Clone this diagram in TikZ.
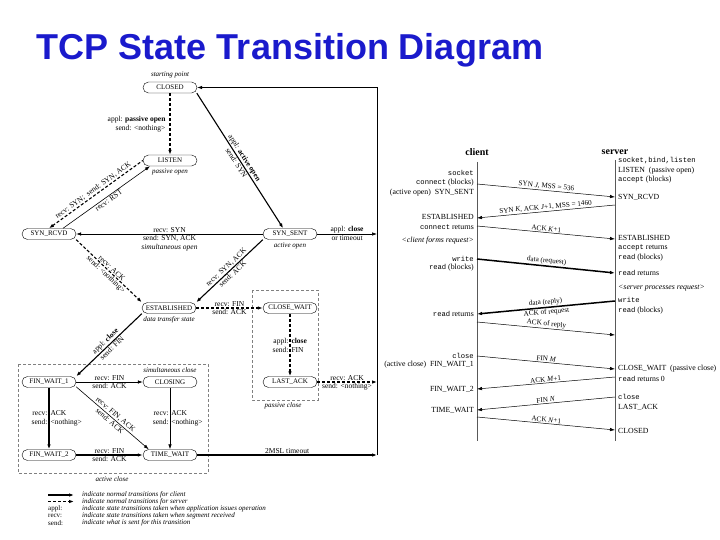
\documentclass[tikz,border=0pt]{standalone}
\usepackage{fontspec}
\setmainfont{Liberation Serif}
\setsansfont{Liberation Sans}
\setmonofont[Scale=0.92]{Liberation Mono}
\usepackage{tikz}
\usetikzlibrary{arrows.meta,positioning}
\definecolor{titleblue}{RGB}{26,26,204}

\begin{document}
\begin{tikzpicture}[
  x=1pt, y=-1pt,
  state/.style={rectangle, rounded corners=5.5pt, draw, thin, fill=white, minimum width=54pt, minimum height=11pt, inner sep=0pt, font=\fontsize{7}{8}\selectfont},
  lbl/.style={inner sep=1pt, font=\fontsize{7.5}{9}\selectfont},
  note/.style={inner sep=0pt, font=\itshape\fontsize{7}{8}\selectfont},
  client/.style={line width=1.1pt, ->},
  server/.style={line width=1.1pt, dash pattern=on 3pt off 2pt, ->},
  other/.style={line width=0.6pt, ->},
  box/.style={gray, line width=0.6pt, dash pattern=on 3pt off 2pt},
  msg/.style={line width=0.5pt, ->},
  msgdata/.style={line width=1.5pt, ->},
  mlbl/.style={inner sep=1pt, font=\fontsize{7.2}{8}\selectfont},
  txt/.style={inner sep=0pt, font=\fontsize{7.8}{9}\selectfont},
  >={Latex[length=5pt,width=3.5pt]}
]
  \useasboundingbox (0,0) rectangle (720,540);

  % Title
  \node[font=\sffamily\bfseries\fontsize{36}{40}\selectfont, text=titleblue, anchor=base, inner sep=0pt] (title) at (290,60) {TCP State Transition Diagram};

  % Dashed boxes: active close, passive close
  \draw[box] (18,364) rectangle (208,473);
  \draw[box] (252,290) rectangle (318,400);
  \node[note] (actclose) at (112,479) {active close};
  \node[note] (pasclose) at (283,406) {passive close};
  \node[note] (simclose) at (170,370) {simultaneous close};

  % States
  \node[state] (closed) at (170,87.5) {CLOSED};
  \node[note] (startpt) at (170,75) {starting point};
  \node[state] (listen) at (170,160.5) {LISTEN};
  \node[note] (pasopen) at (170,172) {passive open};
  \node[state] (synrcvd) at (49,234) {SYN\_RCVD};
  \node[state] (synsent) at (290,234) {SYN\_SENT};
  \node[note] (actopen) at (290,246) {active open};
  \node[state] (estab) at (169,308) {ESTABLISHED};
  \node[note] (datatr) at (169,320) {data transfer state};
  \node[state] (closewait) at (290,308) {CLOSE\_WAIT};
  \node[state] (lastack) at (290,382) {LAST\_ACK};
  \node[state] (finw1) at (49,382) {FIN\_WAIT\_1};
  \node[state] (closing) at (170,382) {CLOSING};
  \node[state] (finw2) at (49,455) {FIN\_WAIT\_2};
  \node[state] (timewait) at (170,455) {TIME\_WAIT};

  % Return line to CLOSED
  \coordinate (rtop) at (377,87.5);
  \coordinate (rsyn) at (377,234);
  \coordinate (rlast) at (377,382);
  \coordinate (rbot) at (377,455);
  \draw[other] (rbot) -- (rtop) -- (closed);

  % Opening
  \draw[server] (closed) -- node[lbl, left=3pt, align=right] {appl: \textbf{passive open}\\send: <nothing>} (listen);
  \draw[client] (closed.-12) -- node[lbl, sloped, above] {appl: \textbf{active open}} node[lbl, sloped, below] {send: SYN} (synsent.140);
  \draw[server, <-] (synrcvd.north) -- node[lbl, sloped, above] {recv: SYN;\ \ send: SYN, ACK} (listen.west);
  \draw[other] ([xshift=14pt]synrcvd.north) -- node[lbl, sloped, below] {recv: RST} ([xshift=-20pt]listen.south);
  \draw[other] (synsent) -- node[lbl, above] {recv: SYN} node[lbl, below, align=center] {send: SYN, ACK\\\itshape simultaneous open} (synrcvd);
  \draw[other] (synsent) -- node[lbl, above] {appl: \textbf{close}} node[lbl, below] {or timeout} (rsyn);
  \draw[server] (synrcvd.south east) -- node[lbl, sloped, above] {recv: ACK} node[lbl, sloped, below] {send: <nothing>} (estab.north west);
  \draw[client, <-] (estab.north east) -- node[lbl, sloped, above] {recv: SYN, ACK} node[lbl, sloped, below] {send: ACK} (synsent.south west);

  % Passive close
  \draw[server] (estab) -- node[lbl, above] {recv: FIN} node[lbl, below] {send: ACK} (closewait);
  \draw[server] (closewait) -- node[lbl, left, align=right] {appl:\\send:} node[lbl, right, align=left] {\textbf{close}\\FIN} (lastack);
  \draw[server] (lastack) -- node[lbl, above] {recv: ACK} node[lbl, below] {send: <nothing>} (rlast);

  % Active close
  \draw[client, <-] (finw1.north east) -- node[lbl, sloped, above] {appl: \textbf{close}} node[lbl, sloped, below] {send: FIN} (estab.south west);
  \draw[other] (finw1) -- node[lbl, above] {recv: FIN} node[lbl, below] {send: ACK} (closing);
  \draw[client] (finw1) -- node[lbl, left, align=right] {recv:\\send:} node[lbl, right, align=left] {ACK\\<nothing>} (finw2);
  \draw[other] (finw1.-10) -- node[lbl, sloped, above] {recv: FIN, ACK} node[lbl, sloped, below] {send: ACK} (timewait.165);
  \draw[other] (closing) -- node[lbl, left, align=right] {recv:\\send:} node[lbl, right, align=left] {ACK\\<nothing>} (timewait);
  \draw[client] (finw2) -- node[lbl, above] {recv: FIN} node[lbl, below] {send: ACK} (timewait);
  \draw[client] (timewait) -- node[lbl, above] {2MSL timeout} (rbot);

  % Legend
  \coordinate (lg1a) at (48,495);
  \coordinate (lg1b) at (74,495);
  \coordinate (lg2a) at (48,501.5);
  \coordinate (lg2b) at (74,501.5);
  \draw[client] (lg1a) -- (lg1b);
  \draw[server] (lg2a) -- (lg2b);
  \begin{scope}[every node/.style={anchor=west, inner sep=0pt, font=\fontsize{7}{7}\selectfont}]
    \node (lgappl) at (48,509) {appl:};
    \node (lgrecv) at (48,516) {recv:};
    \node (lgsend) at (48,523) {send:};
    \node (lgt1) at (82,495) {\itshape indicate normal transitions for client};
    \node (lgt2) at (82,502) {\itshape indicate normal transitions for server};
    \node (lgt3) at (82,509) {\itshape indicate state transitions taken when application issues operation};
    \node (lgt4) at (82,516) {\itshape indicate state transitions taken when segment received};
    \node (lgt5) at (82,523) {\itshape indicate what is sent for this transition};
  \end{scope}

  % Client / server time lines
  \node[font=\bfseries\fontsize{10}{12}\selectfont, inner sep=0pt] (clienthd) at (477,152) {client};
  \node[font=\bfseries\fontsize{10}{12}\selectfont, inner sep=0pt] (serverhd) at (615,152) {server};
  \coordinate (ctop) at (477,162);
  \coordinate (cbot) at (477,441);
  \coordinate (stop) at (615,160);
  \coordinate (sbot) at (615,441);
  \draw[gray!70!black, line width=0.5pt] (ctop) -- (cbot);
  \draw[gray!70!black, line width=0.5pt] (stop) -- (sbot);

  % Client side texts
  \begin{scope}[every node/.style={txt, anchor=east}]
    \node (cl1) at (474,173) {\texttt{socket}};
    \node (cl2) at (474,183) {\texttt{connect} (blocks)};
    \node (cl3) at (474,193) {(active open)\ \ SYN\_SENT};
    \node (cl4) at (474,217) {ESTABLISHED};
    \node (cl5) at (474,227) {\texttt{connect} returns};
    \node (cl6) at (474,241) {\itshape <client forms request>};
    \node (cl7) at (474,259) {\texttt{write}};
    \node (cl8) at (474,268) {\texttt{read} (blocks)};
    \node (cl9) at (474,314) {\texttt{read} returns};
    \node (cl10) at (474,356) {\texttt{close}};
    \node (cl11) at (474,365) {(active close)\ \ FIN\_WAIT\_1};
    \node (cl12) at (474,389) {FIN\_WAIT\_2};
    \node (cl13) at (474,410) {TIME\_WAIT};
  \end{scope}

  % Server side texts
  \begin{scope}[every node/.style={txt, anchor=west}]
    \node (sl1) at (618,161) {\texttt{socket,bind,listen}};
    \node (sl2) at (618,171) {LISTEN\ \ (passive open)};
    \node (sl3) at (618,180) {\texttt{accept} (blocks)};
    \node (sl4) at (618,197) {SYN\_RCVD};
    \node (sl5) at (618,238) {ESTABLISHED};
    \node (sl6) at (618,248) {\texttt{accept} returns};
    \node (sl7) at (618,258) {\texttt{read} (blocks)};
    \node (sl8) at (618,273) {\texttt{read} returns};
    \node (sl9) at (618,288) {\itshape <server processes request>};
    \node (sl10) at (618,300) {\texttt{write}};
    \node (sl11) at (618,311) {\texttt{read} (blocks)};
    \node (sl12) at (618,369) {CLOSE\_WAIT\ \ (passive close)};
    \node (sl13) at (618,379) {\texttt{read} returns 0};
    \node (sl14) at (618,397) {\texttt{close}};
    \node (sl15) at (618,407) {LAST\_ACK};
    \node (sl16) at (618,431) {CLOSED};
  \end{scope}

  % Segments
  \coordinate (c1) at (477,184);  \coordinate (s1) at (615,197);
  \coordinate (c2) at (477,218);  \coordinate (s2) at (615,205);
  \coordinate (c3) at (477,226);  \coordinate (s3) at (615,239);
  \coordinate (c4) at (477,259);  \coordinate (s4) at (615,273);
  \coordinate (c5) at (477,314);  \coordinate (s5) at (615,301);
  \coordinate (c6) at (477,322);  \coordinate (s6) at (615,335);
  \coordinate (c7) at (477,356);  \coordinate (s7) at (615,369);
  \coordinate (c8) at (477,389);  \coordinate (s8) at (615,377);
  \coordinate (c9) at (477,410);  \coordinate (s9) at (615,397);
  \coordinate (c10) at (477,417); \coordinate (s10) at (615,430);
  \draw[msg] (c1) -- node[mlbl, sloped, above] {SYN \textit{J}, MSS = 536} (s1);
  \draw[msg, <-] (c2) -- node[mlbl, sloped, above] {SYN \textit{K}, ACK \textit{J}+1, MSS = 1460} (s2);
  \draw[msg] (c3) -- node[mlbl, sloped, above] {ACK \textit{K}+1} (s3);
  \draw[msgdata] (c4) -- node[mlbl, sloped, above] {data (request)} (s4);
  \draw[msgdata, <-] (c5) -- node[mlbl, sloped, above] {data (reply)} node[mlbl, sloped, below] {ACK of request} (s5);
  \draw[msg] (c6) -- node[mlbl, sloped, above] {ACK of reply} (s6);
  \draw[msg] (c7) -- node[mlbl, sloped, above] {FIN \textit{M}} (s7);
  \draw[msg, <-] (c8) -- node[mlbl, sloped, above] {ACK \textit{M}+1} (s8);
  \draw[msg, <-] (c9) -- node[mlbl, sloped, above] {FIN \textit{N}} (s9);
  \draw[msg] (c10) -- node[mlbl, sloped, above] {ACK \textit{N}+1} (s10);
\end{tikzpicture}
\end{document}
